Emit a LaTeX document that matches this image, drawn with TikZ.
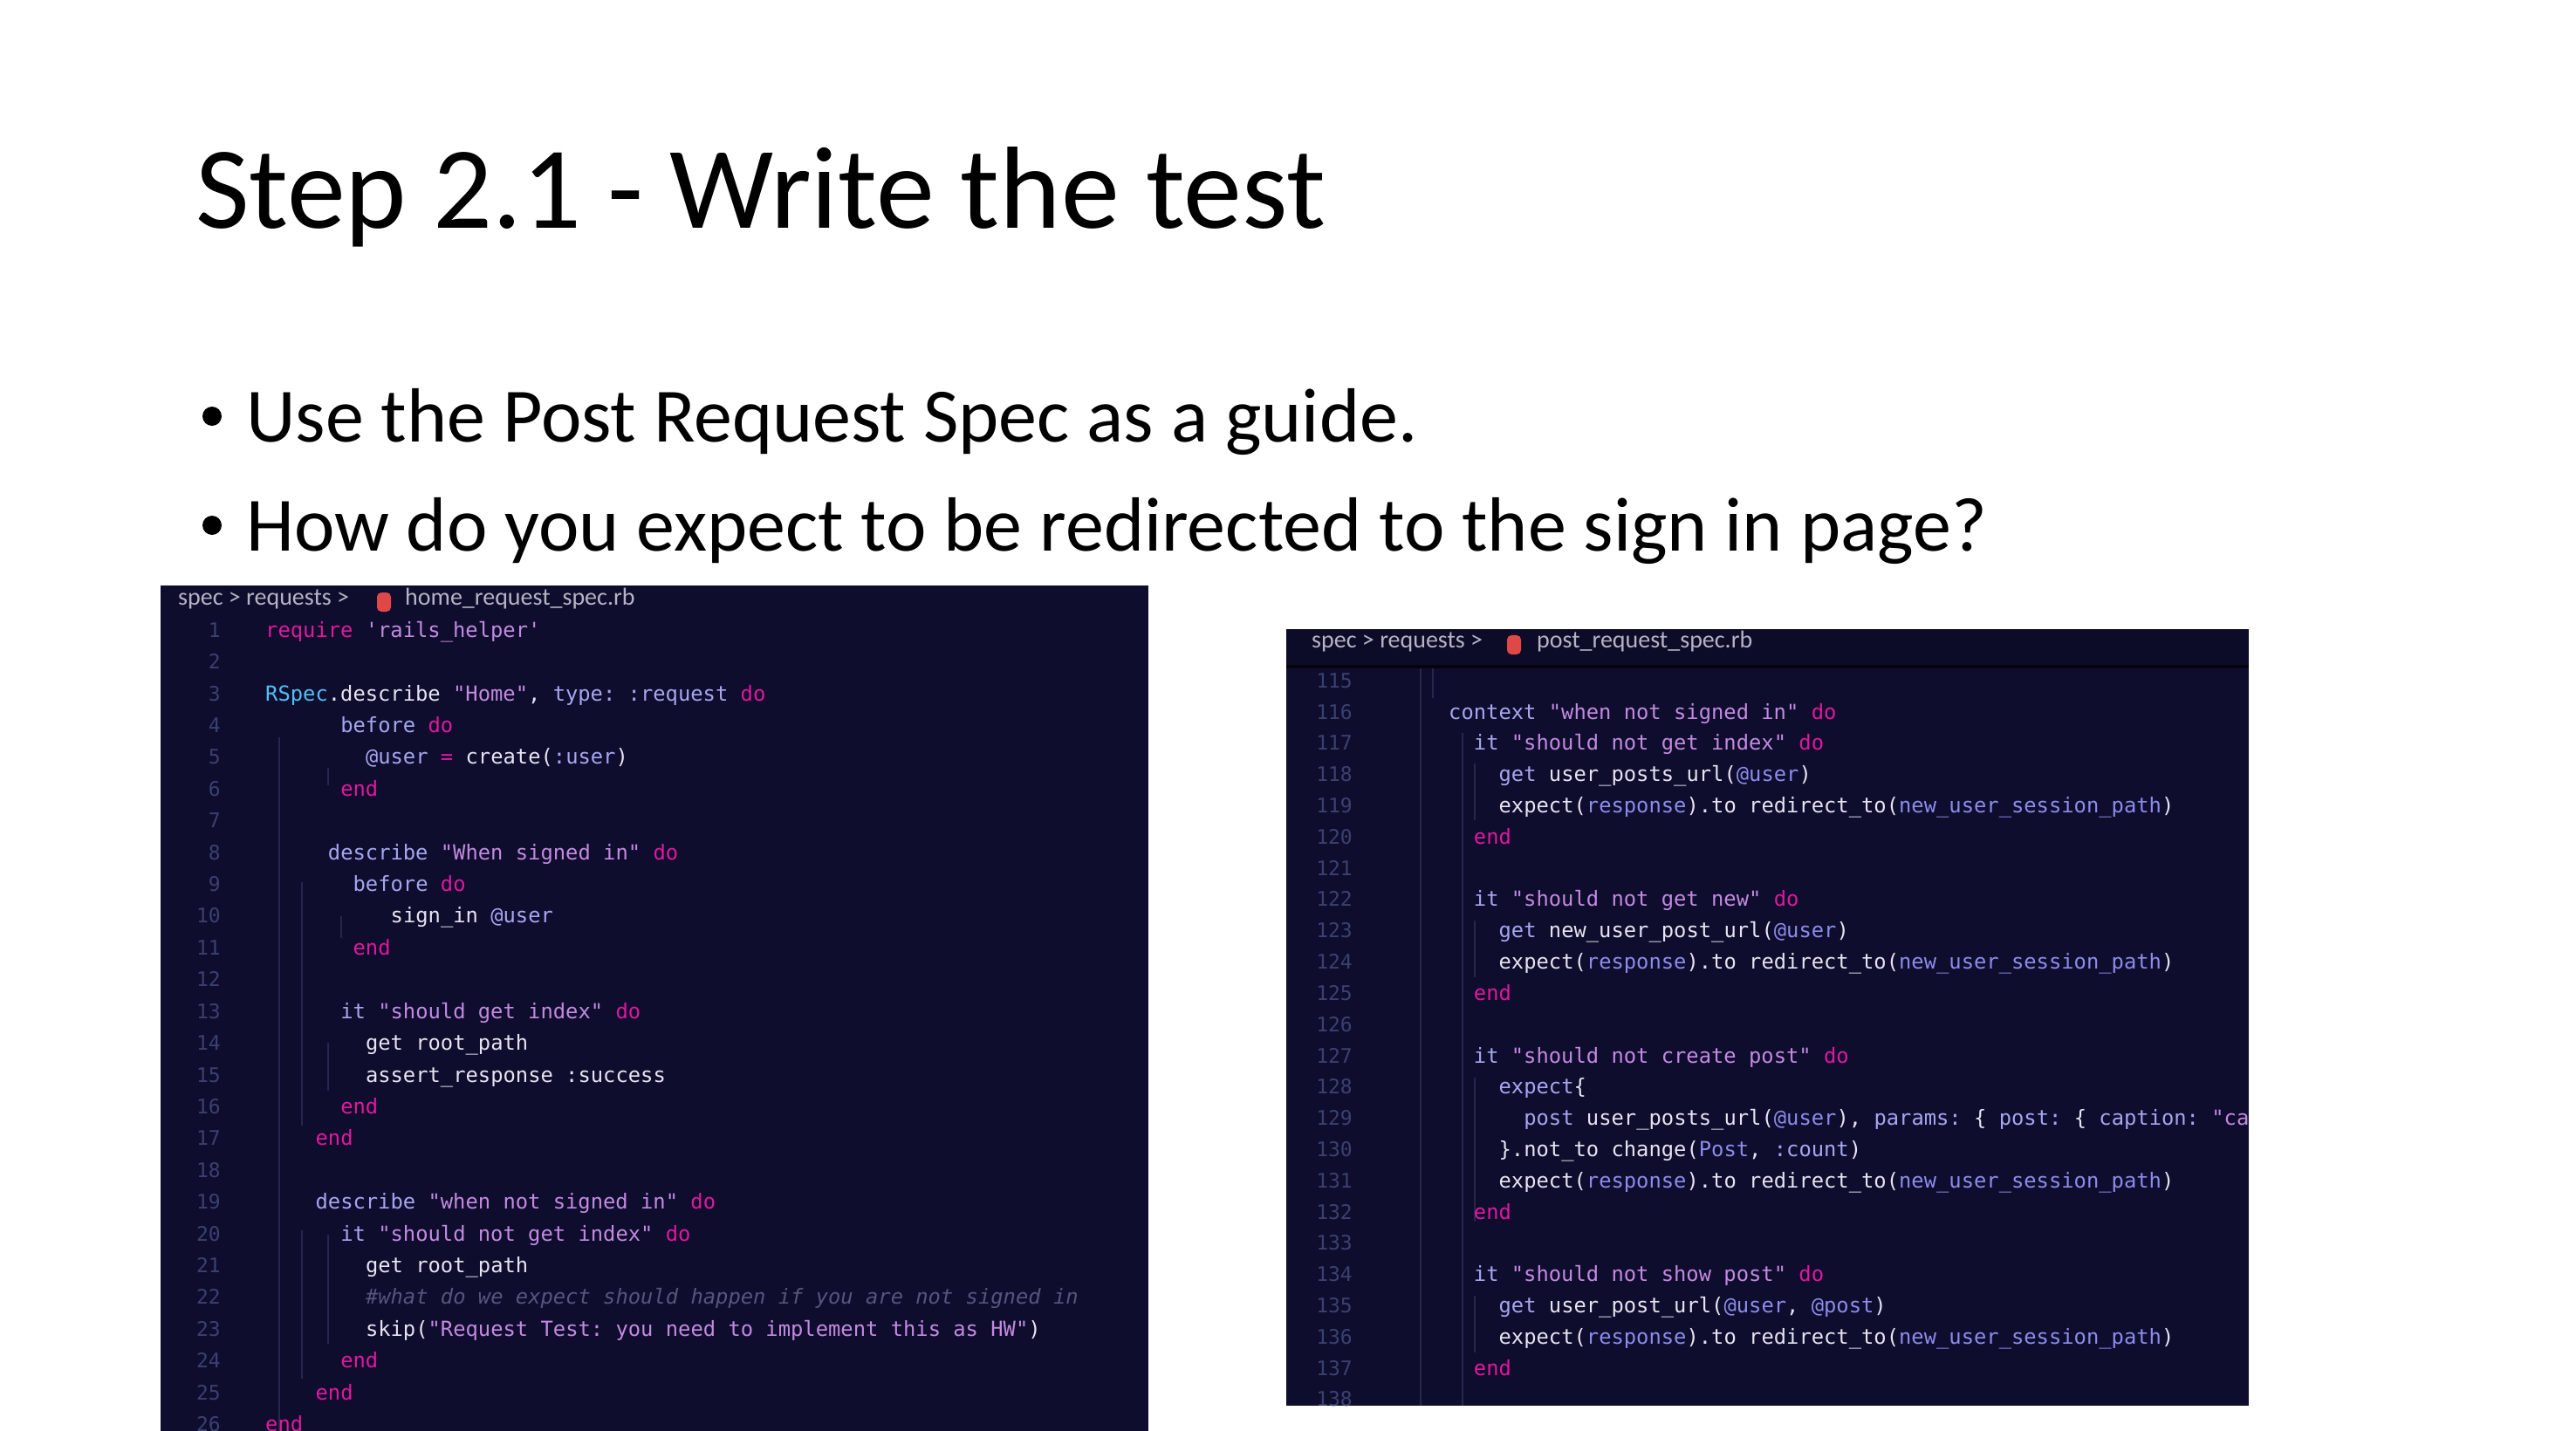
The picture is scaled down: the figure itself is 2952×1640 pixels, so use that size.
\documentclass[tikz,border=0pt]{standalone}
\usepackage{fontspec}
\setmainfont{Carlito}
\setmonofont{DejaVu Sans Mono}
\definecolor{bg}{HTML}{0E0D2D}
\definecolor{hdr}{HTML}{0C0B28}
\definecolor{kw}{HTML}{E0189E}
\definecolor{str}{HTML}{C38AE0}
\definecolor{fn}{HTML}{A6A6F0}
\definecolor{tx}{HTML}{E4E4F2}
\definecolor{cy}{HTML}{4FC0F5}
\definecolor{vr}{HTML}{8C8CEB}
\definecolor{ln}{HTML}{3A4070}
\definecolor{cm}{HTML}{55557E}
\definecolor{guide}{HTML}{26264E}
\definecolor{ht}{HTML}{B4B4C4}
\definecolor{ic}{HTML}{E04848}
\newcommand\K[1]{\textcolor{kw}{#1}}
\newcommand\St[1]{\textcolor{str}{#1}}
\newcommand\F[1]{\textcolor{fn}{#1}}
\newcommand\V[1]{\textcolor{vr}{#1}}
\newcommand\C[1]{\textcolor{cy}{#1}}
\tikzset{
 code/.style={anchor=mid west,inner sep=0pt,font=\fontsize{23.8}{28}\ttfamily,text=tx},
 lnum/.style={anchor=mid east,inner sep=0pt,font=\fontsize{23}{28}\ttfamily,text=ln},
 hd/.style={anchor=mid west,inner sep=0pt,font=\fontsize{28}{30}\selectfont,text=ht},
 gd/.style={draw=guide,line width=1.5pt},
 bul/.style={anchor=base west,inner sep=0pt,font=\fontsize{88}{100}\selectfont}
}
\newcommand\LL[4]{\node[code] (l#1) at (304+#2*14.35, 728+#1*36.4-36.4) {#3#4};
 \node[lnum] (ln#1) at (253, 728+#1*36.4-36.4) {#1};}
\newcommand\RL[4]{\node[code] (r#1) at (1660+#2*14.35, 786+#1*35.8-4117) {#3#4};
 \node[lnum] (rn#1) at (1550, 786+#1*35.8-4117) {#1};}
\begin{document}
\begin{tikzpicture}[x=1pt,y=-1pt]
\useasboundingbox (0,0) rectangle (2952,1640);
\fill[white] (0,0) rectangle (2952,1640);
\node[anchor=base west,inner sep=0pt,font=\fontsize{134}{150}\selectfont] (title) at (224,261) {Step 2.1 - Write the test};
\node[bul] (b1) at (282,506) {Use the Post Request Spec as a guide.};
\node[bul] (b2) at (282,631) {How do you expect to be redirected to the sign in page?};
\fill (243,477) circle (11) coordinate (d1);
\fill (243,602) circle (11) coordinate (d2);
% left panel
\begin{scope}
\clip (184,671) rectangle (1316,1640);
\fill[bg] (184,671) rectangle (1316,1640);
\node[hd] (lh) at (204,691) {spec \textgreater{} requests \textgreater};
\node[hd] (lf) at (464,691) {home\_request\_spec.rb};
\fill[ic,rounded corners=5pt] (432,679) rectangle (448,701);
\draw[gd] (320,845) -- (320,1685);
\draw[gd] (376,880) -- (376,900);
\draw[gd] (346,1011) -- (346,1290);
\draw[gd] (391,1050) -- (391,1075);
\draw[gd] (376,1195) -- (376,1250);
\draw[gd] (376,1415) -- (376,1540);
\draw[gd] (346,1410) -- (346,1580);
\LL{1}{0}{}{\K{require} \St{'rails\_helper'}}
\LL{2}{0}{}{}
\LL{3}{0}{}{\C{RSpec}.describe \St{"Home"}, \F{type:} \F{:request} \K{do}}
\LL{4}{6}{}{\F{before} \K{do}}
\LL{5}{8}{}{\F{@user} \K{=} create(\F{:user})}
\LL{6}{6}{}{\K{end}}
\LL{7}{0}{}{}
\LL{8}{5}{}{\F{describe} \St{"When signed in"} \K{do}}
\LL{9}{7}{}{\F{before} \K{do}}
\LL{10}{10}{}{sign\_in \F{@user}}
\LL{11}{7}{}{\K{end}}
\LL{12}{0}{}{}
\LL{13}{6}{}{\F{it} \St{"should get index"} \K{do}}
\LL{14}{8}{}{get root\_path}
\LL{15}{8}{}{assert\_response :success}
\LL{16}{6}{}{\K{end}}
\LL{17}{4}{}{\K{end}}
\LL{18}{0}{}{}
\LL{19}{4}{}{\F{describe} \St{"when not signed in"} \K{do}}
\LL{20}{6}{}{\F{it} \St{"should not get index"} \K{do}}
\LL{21}{8}{}{get root\_path}
\LL{22}{8}{}{\textcolor{cm}{\itshape \#what do we expect should happen if you are not signed in}}
\LL{23}{8}{}{skip(\St{"Request Test: you need to implement this as HW"})}
\LL{24}{6}{}{\K{end}}
\LL{25}{4}{}{\K{end}}
\LL{26}{0}{}{\K{end}}
\end{scope}
% right panel
\begin{scope}
\clip (1474,721) rectangle (2577,1611);
\fill[bg] (1474,721) rectangle (2577,1611);
\fill[hdr] (1474,721) rectangle (2577,762);
\fill[black!70!bg] (1474,762) rectangle (2577,766);
\node[hd] (rh) at (1503,740) {spec \textgreater{} requests \textgreater};
\node[hd] (rf) at (1761,740) {post\_request\_spec.rb};
\fill[ic,rounded corners=5pt] (1727,728) rectangle (1743,750);
\draw[gd] (1628,766) -- (1628,1611);
\draw[gd] (1642,766) -- (1642,800);
\draw[gd] (1676,840) -- (1676,1611);
\draw[gd] (1690,875) -- (1690,940);
\draw[gd] (1690,1055) -- (1690,1120);
\draw[gd] (1690,1235) -- (1690,1400);
\draw[gd] (1690,1485) -- (1690,1550);
\RL{115}{0}{}{}
\RL{116}{0}{}{\F{context} \St{"when not signed in"} \K{do}}
\RL{117}{2}{}{\F{it} \St{"should not get index"} \K{do}}
\RL{118}{4}{}{\F{get} user\_posts\_url(\V{@user})}
\RL{119}{4}{}{expect(\V{response}).to redirect\_to(\V{new\_user\_session\_path})}
\RL{120}{2}{}{\K{end}}
\RL{121}{0}{}{}
\RL{122}{2}{}{\F{it} \St{"should not get new"} \K{do}}
\RL{123}{4}{}{\F{get} new\_user\_post\_url(\V{@user})}
\RL{124}{4}{}{expect(\V{response}).to redirect\_to(\V{new\_user\_session\_path})}
\RL{125}{2}{}{\K{end}}
\RL{126}{0}{}{}
\RL{127}{2}{}{\F{it} \St{"should not create post"} \K{do}}
\RL{128}{4}{}{\F{expect}\{}
\RL{129}{6}{}{\F{post} user\_posts\_url(\V{@user}), \F{params:} \{ \F{post:} \{ \F{caption:} \St{"cap}}
\RL{130}{4}{}{\}.not\_to change(\V{Post}, \F{:count})}
\RL{131}{4}{}{expect(\V{response}).to redirect\_to(\V{new\_user\_session\_path})}
\RL{132}{2}{}{\K{end}}
\RL{133}{0}{}{}
\RL{134}{2}{}{\F{it} \St{"should not show post"} \K{do}}
\RL{135}{4}{}{\F{get} user\_post\_url(\V{@user}, \V{@post})}
\RL{136}{4}{}{expect(\V{response}).to redirect\_to(\V{new\_user\_session\_path})}
\RL{137}{2}{}{\K{end}}
\RL{138}{0}{}{}
\end{scope}
\end{tikzpicture}
\end{document}
